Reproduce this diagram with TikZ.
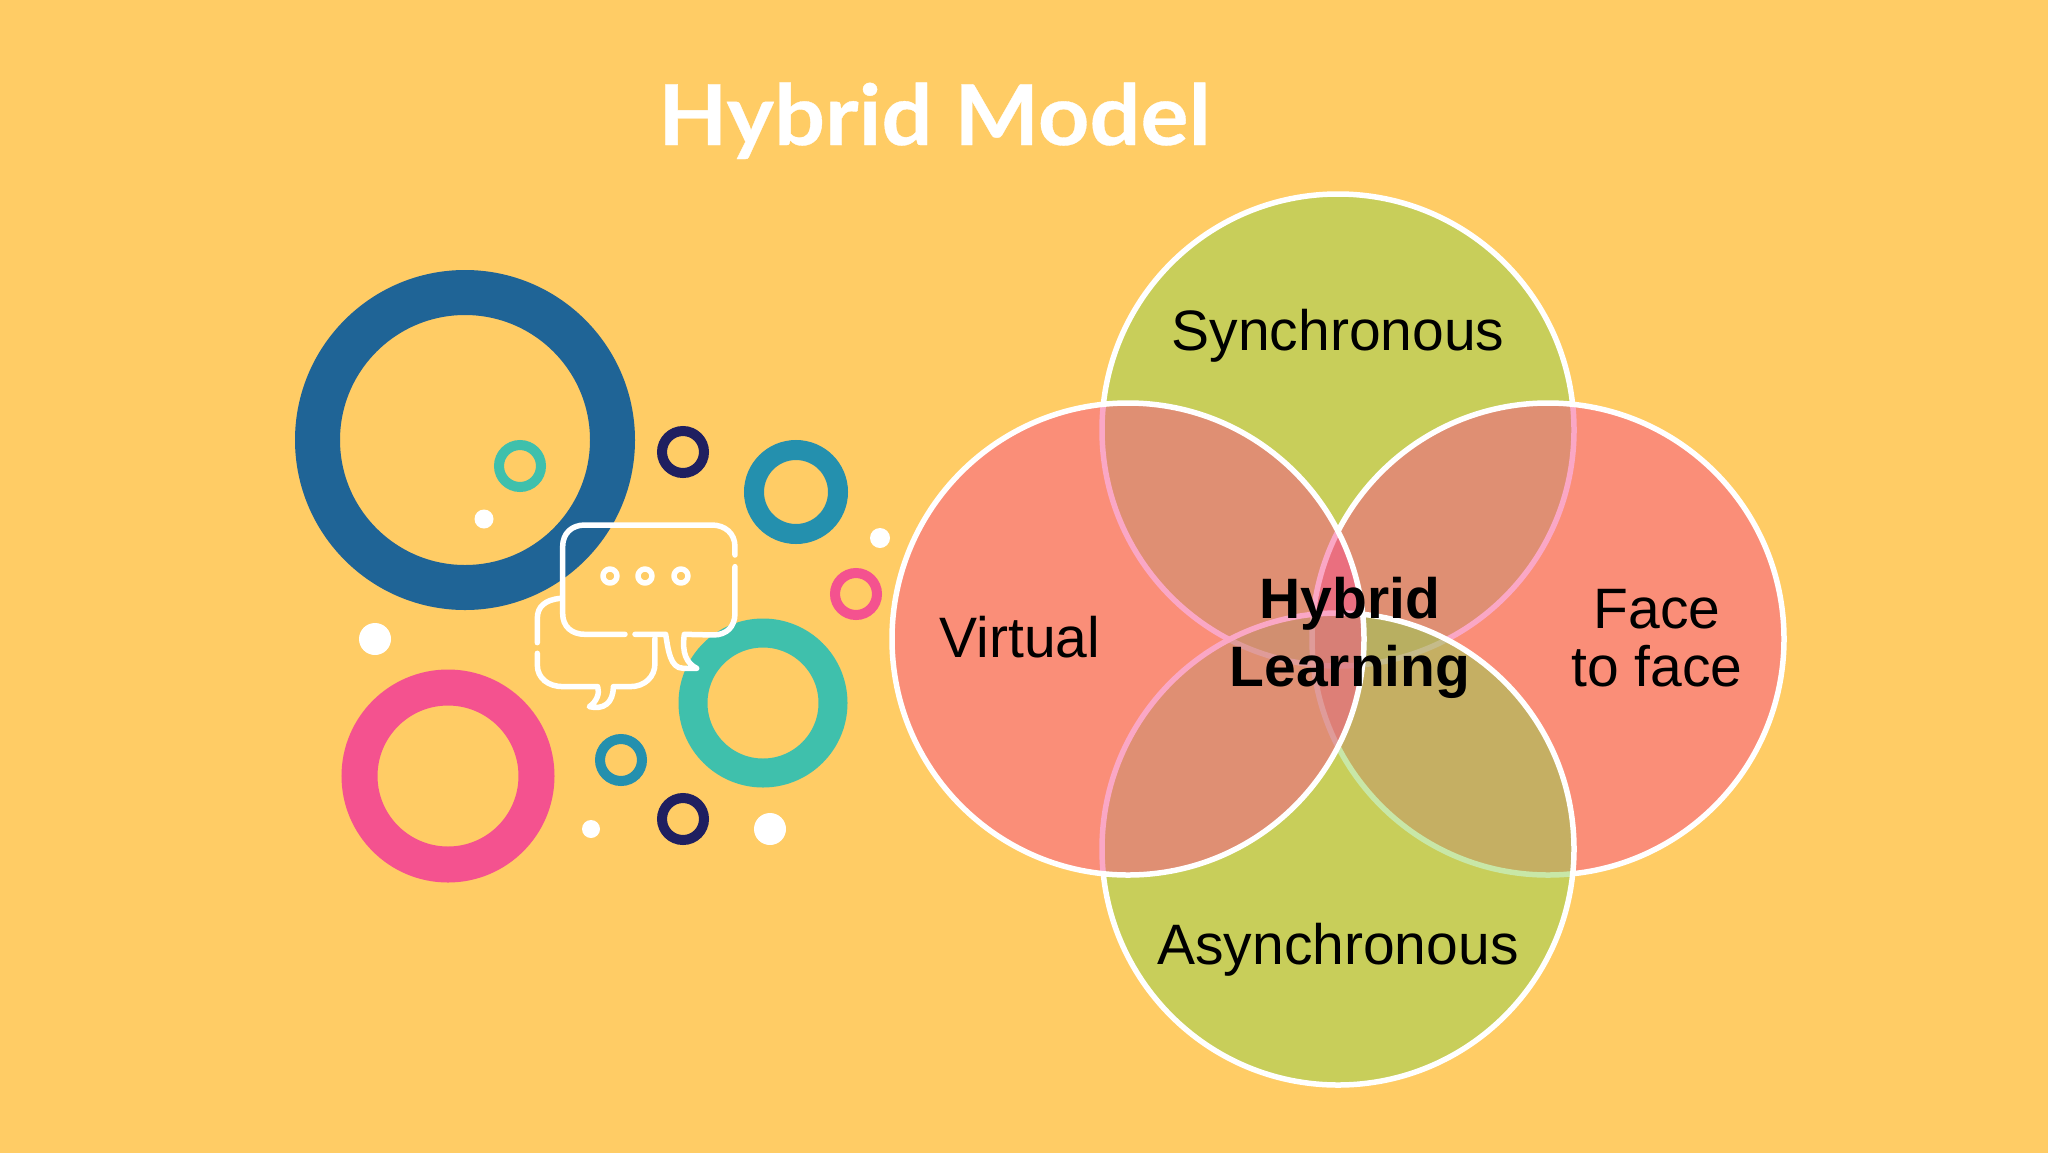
\documentclass[tikz,border=0pt]{standalone}
\usepackage{fontspec}
\setmainfont{Liberation Sans}
\newfontfamily\titlefont[FakeStretch=1.07,FakeBold=0.4]{Lato}
\definecolor{bgc}{HTML}{FFCC65}
\definecolor{vennpink}{HTML}{F6518C}
\definecolor{venngreen}{HTML}{92D050}
\definecolor{ringblue}{HTML}{1F6496}
\definecolor{ringteal}{HTML}{3FC0AC}
\definecolor{ringcyan}{HTML}{2490AE}
\definecolor{ringnavy}{HTML}{1F1F60}
\definecolor{ringpink}{HTML}{F4528F}
\tikzset{
  venn/.style={draw=white,line width=5.5pt,fill opacity=.5,draw opacity=1},
  label/.style={text=black,inner sep=0pt,font=\fontsize{57}{68}\selectfont,align=center},
  bubble/.style={draw=white,line width=5.5pt,line cap=round,line join=round},
  whitedot/.style={fill=white,draw=none},
  smallring/.style={line width=10pt}
}
\begin{document}
\begin{tikzpicture}[x=1pt,y=-1pt]
\useasboundingbox (0,0) rectangle (2048,1152);
\fill[bgc] (-5,-5) rectangle (2053,1157);
% title
\node[anchor=base west,inner sep=0pt,text=white] (title) at (658,145) {\titlefont\bfseries\fontsize{84}{90}\selectfont Hybrid Model};
% rings
\draw[ringblue,line width=45pt] (465,440) circle (147.5);
\draw[ringteal,smallring] (520,466) circle (21);
\fill[whitedot] (484,519) circle (9.5);
\draw[ringnavy,smallring] (683,452) circle (21);
\draw[ringcyan,line width=20pt] (796,492) circle (42);
\fill[whitedot] (880,538) circle (10);
\draw[ringpink,smallring] (856,594) circle (21);
\draw[ringteal,line width=29pt] (763,703) circle (70);
\draw[ringpink,line width=36pt] (448,776) circle (88.5);
\fill[whitedot] (375,639) circle (16);
\draw[ringcyan,smallring] (621,760) circle (21);
\draw[ringnavy,smallring] (683,819) circle (21);
\fill[whitedot] (591,829) circle (9);
\fill[whitedot] (770,829) circle (16);
% speech bubbles (crop coordinates)
\begin{scope}[shift={(500,490)},x=.3333pt,y=-.3333pt]
\draw[bubble] (705,195) -- (705,170) .. controls (705,130) and (675,105) .. (635,105) -- (255,105) .. controls (215,105) and (188,130) .. (188,170) -- (188,370) .. controls (188,410) and (215,433) .. (255,433) -- (375,433);
\draw[bubble] (405,433) -- (497,433) .. controls (505,480) and (510,535) .. (550,535) -- (590,535) .. controls (560,520) and (545,490) .. (553,433) -- (640,435) .. controls (680,435) and (705,410) .. (705,370) -- (705,230);
\draw[bubble] (180,325) .. controls (135,330) and (112,350) .. (112,385) -- (112,458);
\draw[bubble] (112,490) -- (112,525) .. controls (112,565) and (145,590) .. (190,590) -- (293,590) .. controls (300,610) and (290,635) .. (268,650) .. controls (310,660) and (340,640) .. (340,590) -- (390,590) .. controls (435,590) and (465,560) .. (465,520) -- (465,445);
\draw[bubble] (330,258) circle (21);
\draw[bubble] (435,258) circle (21);
\draw[bubble] (543,258) circle (21);
\end{scope}
% venn
\draw[venn,fill=venngreen] (1338,430) circle (236);
\draw[venn,fill=vennpink] (1548,639) circle (236);
\draw[venn,fill=venngreen] (1338,849) circle (236);
\draw[venn,fill=vennpink] (1128,639) circle (236);
% labels
\node[label,anchor=base] (syn) at (1338,350) {Synchronous};
\node[label,anchor=base] (asyn) at (1338,964) {Asynchronous};
\node[label,anchor=base] (virt) at (1020,657) {Virtual};
\node[label,font=\fontsize{57}{58}\selectfont] (face) at (1657,638) {Face\\to face};
\node[label,font=\bfseries\fontsize{57}{68}\selectfont] (hyb) at (1350,638) {Hybrid\\Learning};
\end{tikzpicture}
\end{document}
